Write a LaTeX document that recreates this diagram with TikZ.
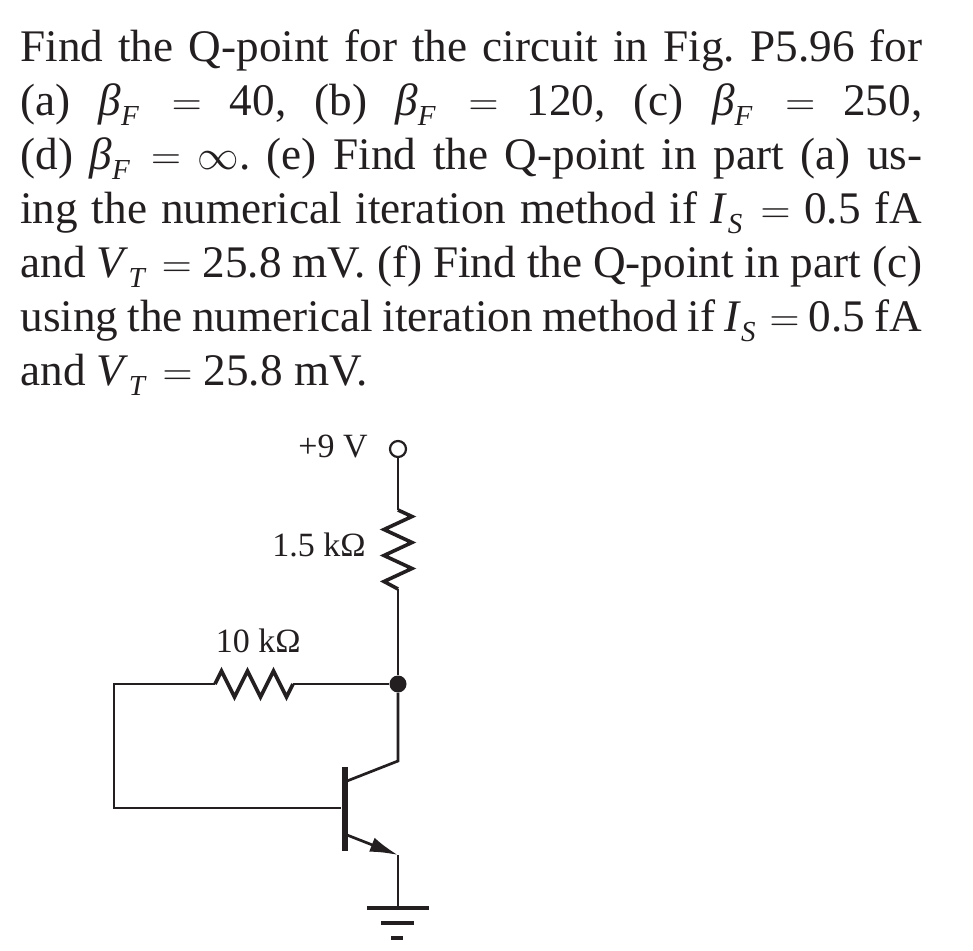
\documentclass[tikz,border=0pt]{standalone}
\usepackage{fontspec}
\setmainfont{Liberation Serif}
\usetikzlibrary{arrows.meta}
\definecolor{ink}{HTML}{231F20}
\tikzset{
  textline/.style={anchor=base west,inner sep=0pt,text=ink,font=\fontsize{22.6}{26}\selectfont\frenchspacing},
  valuelabel/.style={anchor=base east,inner sep=0pt,text=ink,font=\fontsize{17}{20}\selectfont},
  wire/.style={line width=1.35pt,draw=ink,line join=miter},
  heavywire/.style={line width=1.8pt,draw=ink,line join=miter},
  groundbar/.style={line width=2.3pt,draw=ink}
}
\newcommand{\fullline}[1]{\makebox[451pt][s]{#1}}
\newcommand{\symb}[2]{\textit{#1}\raisebox{-.2em}{\fontsize{14.5}{16}\selectfont\textit{#2}}\kern.1em\relax}
\begin{document}
\begin{tikzpicture}[x=.5pt,y=-.5pt]
\useasboundingbox (0,0) rectangle (973,951);
% problem statement
\node[textline] (line1) at (20,62) {\fullline{Find the Q-point for the circuit in Fig. P5.96 for}};
\node[textline] (line2) at (20,116) {\fullline{(a) \symb{β}{F} $=$ 40, (b) \symb{β}{F} $=$ 120, (c) \symb{β}{F} $=$ 250,}};
\node[textline] (line3) at (20,170) {\fullline{(d) \symb{β}{F} $=$ $\infty$. (e) Find the Q-point in part (a) us-}};
\node[textline] (line4) at (20,224) {\fullline{ing the numerical iteration method if \symb{I}{S} $=$ 0.5 fA}};
\node[textline] (line5) at (20,278) {\fullline{and \symb{V}{T} $=$ 25.8 mV. (f) Find the Q-point in part (c)}};
\node[textline] (line6) at (20,332) {\fullline{using the numerical iteration method if \symb{I}{S} $=$ 0.5 fA}};
\node[textline] (line7) at (20,386) {and \symb{V}{T} $=$ 25.8 mV.};
% supply and labels
\node[circle,draw=ink,fill=white,line width=1.1pt,minimum size=8pt,inner sep=0pt] (vcc) at (398,449) {};
\node[valuelabel] (vcclabel) at (368,458) {+9 V};
\node[valuelabel] (rclabel) at (366,556) {1.5 kΩ};
\node[valuelabel] (rblabel) at (301,652) {10 kΩ};
\node[circle,fill=ink,minimum size=8.5pt,inner sep=0pt] (junction) at (398,684) {};
% transistor
\node[rectangle,fill=ink,minimum width=3.2pt,minimum height=42pt,inner sep=0pt] (qbar) at (345,809) {};
\coordinate (rctop) at (398,510);
\coordinate (rcbot) at (398,589);
\coordinate (rbleft) at (215,684);
\coordinate (rbright) at (293,684);
\coordinate (loopup) at (114,684);
\coordinate (loopdown) at (114,808);
\coordinate (colbar) at (347,781);
\coordinate (colknee) at (398,761);
\coordinate (emitbar) at (347,835);
\coordinate (emitknee) at (398,855);
\coordinate (gnd) at (398,908);
% wires
\draw[wire] (vcc) -- (rctop);
\draw[wire] (rcbot) -- (junction);
\draw[wire] (junction) -- (rbright);
\draw[wire] (rbleft) -- (loopup) -- (loopdown) -- (qbar.west |- loopdown);
\draw[wire] (junction) -- (colknee) -- (colbar);
\draw[wire,-{Latex[length=14pt,width=7.5pt]}] (emitbar) -- (emitknee);
\draw[wire] (emitknee) -- (gnd);
% resistors
\draw[heavywire] (rctop) -- ++(14,6.5) -- ++(-28,13) -- ++(28,13) -- ++(-28,13) -- ++(28,13) -- ++(-28,13) -- (rcbot);
\draw[heavywire] (rbleft) -- ++(6.5,-13) -- ++(13,26) -- ++(13,-26) -- ++(13,26) -- ++(13,-26) -- ++(13,26) -- (rbright);
% ground
\draw[groundbar] (gnd) ++(-31,0) -- ++(62,0);
\draw[groundbar] (gnd) ++(-17,15) -- ++(33,0);
\draw[groundbar] (gnd) ++(-7,30) -- ++(12,0);
\end{tikzpicture}
\end{document}
